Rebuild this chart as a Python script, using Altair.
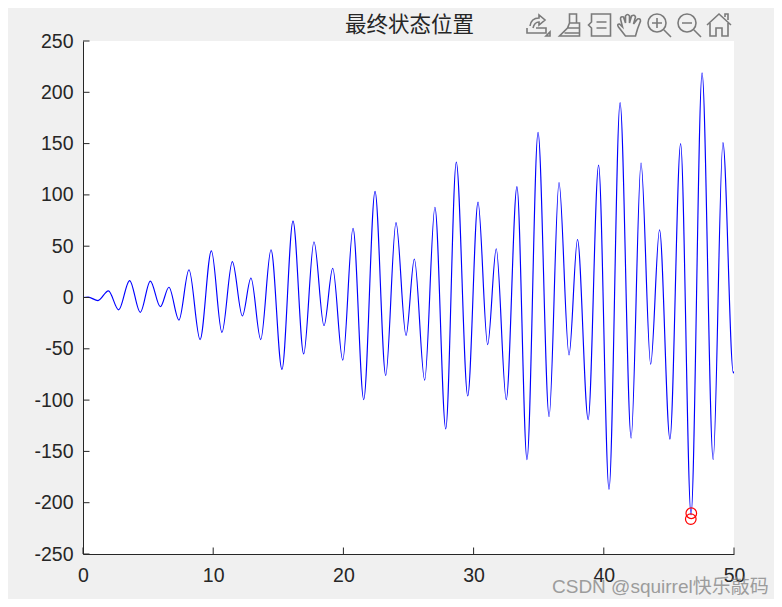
import altair as alt
import pandas as pd

# turning points of the response
t_vals = [0, 0.4, 1.15, 1.95, 2.74, 3.58, 4.4, 5.17, 5.94, 6.6, 7.37, 8.14, 8.99, 9.86, 10.67, 11.47,
          12.24, 12.9, 13.65, 14.44, 15.28, 16.13, 16.95, 17.74, 18.51, 19.18, 19.95, 20.74, 21.56,
          22.43, 23.25, 24.04, 24.81, 25.45, 26.24, 27.03, 27.86, 28.67, 29.55, 30.34, 31.08, 31.74,
          32.51, 33.33, 34.1, 34.95, 35.8, 36.56, 37.33, 37.98, 38.8, 39.6, 40.4, 41.25, 42.1, 42.86,
          43.6, 44.28, 45.08, 45.9, 46.7, 47.55, 48.4, 49.15, 49.95, 50]
y_vals = [0, 0.3, -3, 6.5, -12, 16.5, -14.5, 16, -9, 10, -22, 27, -41, 45.5, -34, 35,
          -18, 19, -41, 46.5, -70, 74.5, -55, 54.3, -27.5, 28.5, -61, 67.5, -99.5,
          103.5, -76, 73, -37, 37.5, -80.5, 88, -128, 132, -96, 93, -46, 47.5,
          -99.5, 108, -158, 161, -116, 112, -56, 56.5, -119, 129, -187, 190, -137, 131,
          -65, 66, -138, 150, -212, 219, -158, 151, -73.5, -72]
marker_t = [46.72, 46.68]
marker_y = [-210.3, -216]
x_ticks = [0, 10, 20, 30, 40, 50]
y_ticks = [-250, -200, -150, -100, -50, 0, 50, 100, 150, 200, 250]
title_text = "最终状态位置"
watermark = "CSDN @squirrel快乐敲码"

W, H = 651, 513
INK = "#262626"
ICON = "#7a7a7a"
icons = [
    (456, "M-12 3 V8 H7 V3 H-3 M-9 1 C-8 -6 -3 -7 0 -7 L0 -10 L6 -5 L0 0 L0 -3 C-3 -3 -5 -1 -6 3 M11 11 V7 L7 11 Z"),
    (486.5, "M0 -11 H7 V-2 H0 Z M0 -2 L-2 3 L-10 11 H10 V-2 H7 M-2 3 H10 M-5 8 H10"),
    (516.5, "M-8 -11 H11 V11 H-8 V3 L-11 0 L-8 -3 Z M-3 -3 H7 M-3 3 H7"),
    (546.5, "M-4 11 L-11 2 Q-13 -1 -10 -1 L-7 2 L-9 -6 Q-9 -9 -6 -8 L-4 -2 L-4 -9 Q-2 -12 0 -9 L0 -2 L2 -9 Q5 -11 6 -8 L4 -1 L8 -6 Q11 -7 11 -4 L8 4 L6 11 Z"),
    (576, "M7 -2 A9 9 0 1 1 -11 -2 A9 9 0 1 1 7 -2 Z M-7 -2 H3 M-2 -7 V3 M5 5 L12 12"),
    (606, "M7 -2 A9 9 0 1 1 -11 -2 A9 9 0 1 1 7 -2 Z M-7 -2 H3 M5 5 L12 12"),
    (636, "M-12 0 L0 -11 L12 0 M-9 -2 V11 H-3 V3 H3 V11 H9 V-2 M6 -8 V-11 H9 V-5"),
]

x_scale = alt.Scale(domain=[0, 50], nice=False, zero=False)
y_scale = alt.Scale(domain=[-250, 250], nice=False, zero=False)

series = pd.DataFrame({"t": t_vals, "y": y_vals})
markers = pd.DataFrame({"t": marker_t, "y": marker_y})
xt = pd.DataFrame({"t": x_ticks})
yt = pd.DataFrame({"y": y_ticks})
one = alt.Data(values=[{"a": 1}])
LABEL_EXPR = "'' + datum.value"

line = alt.Chart(series).mark_line(color="#0000ff", strokeWidth=1.15, interpolate="monotone", clip=True).encode(
    x=alt.X("t:Q", scale=x_scale, title=None,
            axis=alt.Axis(values=x_ticks, labelExpr=LABEL_EXPR, ticks=False, grid=False, labelFont="Liberation Sans",
                          labelFontSize=19.5, labelColor=INK, labelPadding=12, domainColor=INK, domainWidth=1,
                          labelFlush=False, labelOverlap=False)),
    y=alt.Y("y:Q", scale=y_scale, title=None,
            axis=alt.Axis(values=y_ticks, labelExpr=LABEL_EXPR, ticks=False, grid=False, labelFont="Liberation Sans",
                          labelFontSize=19.5, labelColor=INK, labelPadding=10, domainColor=INK, domainWidth=1,
                          labelOverlap=False)),
)
circles = alt.Chart(markers).mark_point(shape="circle", color="#ff0000", filled=False, size=113, strokeWidth=1.2, opacity=1).encode(
    x=alt.X("t:Q", scale=x_scale), y=alt.Y("y:Q", scale=y_scale))
x_tick_marks = alt.Chart(xt).mark_rule(color=INK, strokeWidth=1).encode(
    x=alt.X("t:Q", scale=x_scale), y=alt.value(H - 6.5), y2=alt.value(H))
y_tick_marks = alt.Chart(yt).mark_rule(color=INK, strokeWidth=1).encode(
    y=alt.Y("y:Q", scale=y_scale), x=alt.value(0), x2=alt.value(6.5))

title = alt.Chart(one).mark_text(text=title_text, font="Noto Sans CJK SC", fontSize=21.5, color=INK,
                                 align="center", baseline="middle").encode(
    x=alt.value(326.5), y=alt.value(-15))
wm = alt.Chart(one).mark_text(text=watermark, font="Liberation Sans, Noto Sans CJK SC", fontSize=19, color="#808080", opacity=0.75,
                              align="left", baseline="alphabetic").encode(
    x=alt.value(469), y=alt.value(552))

icon_layers = [
    alt.Chart(one).mark_point(shape=p, size=4, filled=False, stroke=ICON, strokeWidth=1.6, opacity=1).encode(
        x=alt.value(px), y=alt.value(-16))
    for px, p in icons
]

chart = alt.layer(line, x_tick_marks, y_tick_marks, circles, title, wm, *icon_layers).properties(
    width=W, height=H,
    background="#f0f0f0",
    padding={"left": 75, "top": 33, "right": 40, "bottom": 45},
    autosize=alt.AutoSizeParams(type="none"),
).configure_view(fill="white", stroke=None)

chart.save("out.html", embed_options={"renderer": "svg", "actions": False})
